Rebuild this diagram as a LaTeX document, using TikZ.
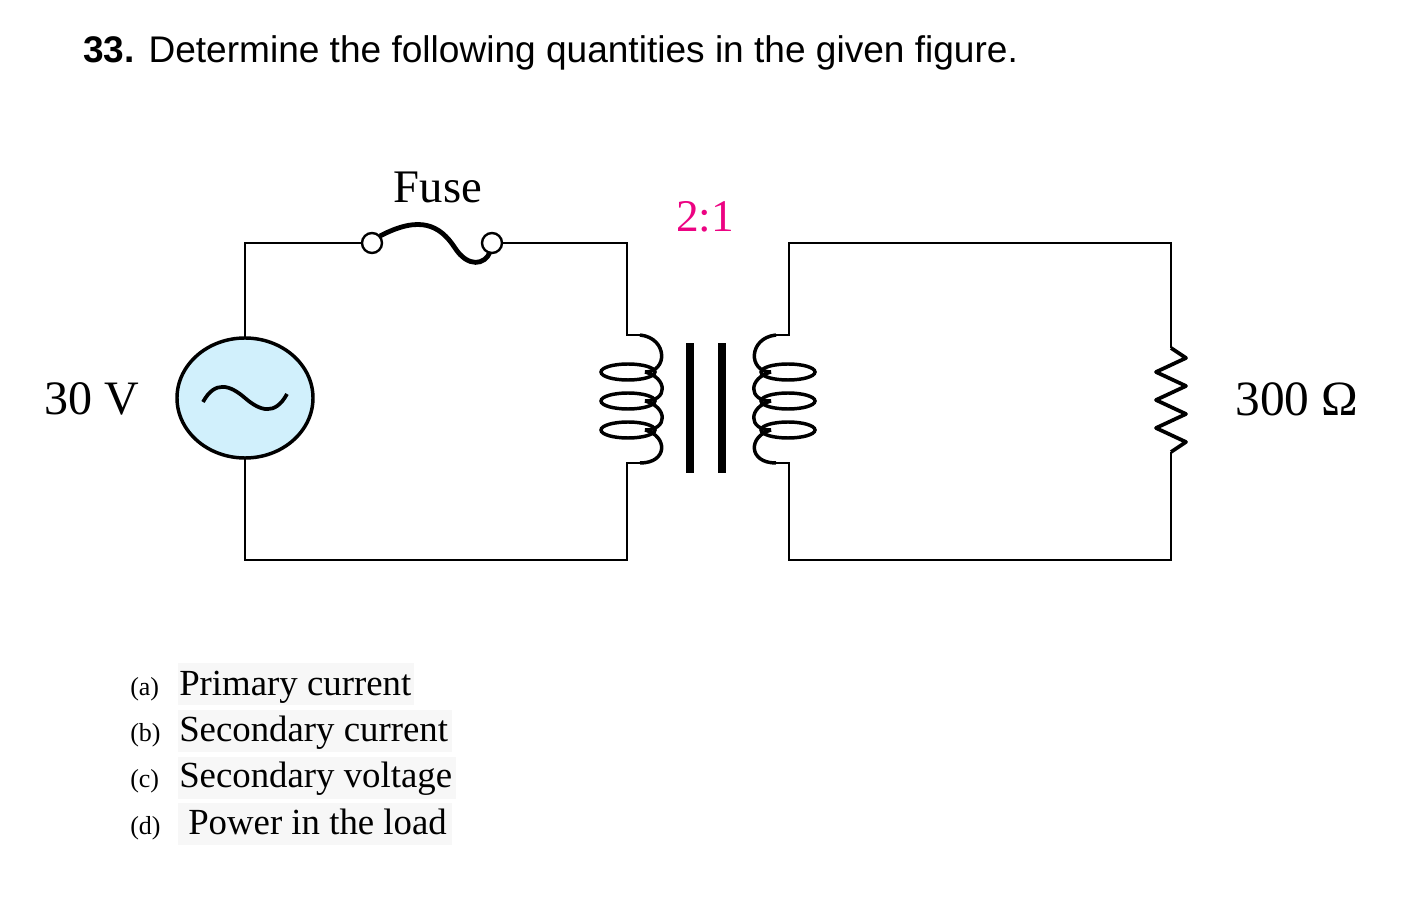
\documentclass[tikz,border=0pt]{standalone}
\usepackage{fontspec}
\usetikzlibrary{shapes.geometric}
\setmainfont{Liberation Serif}
\newfontfamily\arialf{Liberation Sans}
\begin{document}
\begin{tikzpicture}[x=0.75pt,y=-0.75pt,
  lbl/.style={inner sep=0pt,anchor=base west},
  wire/.style={line width=2.1}]
\useasboundingbox (0,0) rectangle (1404,898);
\node[lbl,font=\arialf\fontsize{27.8}{32}\selectfont] (title) at (83,63) {\textbf{33.} Determine the following quantities in the given figure.};
% primary loop
\coordinate (p1) at (245,243); \coordinate (p2) at (627,243);
\coordinate (p3) at (627,560); \coordinate (p4) at (245,560);
\draw[wire] (245,338) -- (p1) -- (372,243);
\draw[wire] (502,243) -- (p2) -- (627,335) -- (640,335);
\draw[wire] (640,463) -- (627,463) -- (p3) -- (p4) -- (245,458);
% fuse
\draw[line width=1.8,fill=white] (372,243) circle (10);
\draw[line width=1.8,fill=white] (492,243) circle (10);
\draw[line width=3.6] (380,236) .. controls (420,215) and (440,225) .. (455,248) .. controls (468,268) and (485,265) .. (490,252);
\node[font=\fontsize{35}{40}\selectfont] (fuse) at (438,187) {Fuse};
% source
\node[draw,line width=2.6,fill=cyan!18,ellipse,minimum width=102pt,minimum height=90pt,inner sep=0] (src) at (245,398) {};
\draw[line width=2.8] (203,402) .. controls (215,380) and (230,385) .. (245,398) .. controls (260,411) and (275,416) .. (287,394);
\node[font=\fontsize{36}{40}\selectfont] (v) at (92,399) {30 V};
% primary coil
\foreach \y in {372,401,430}{\draw[line width=2.6] (628,\y) ellipse (27 and 8);}
\draw[line width=2.6] (640,335) .. controls (668,338) and (668,372) .. (645,372)
  (645,372) .. controls (668,378) and (668,401) .. (645,401)
  (645,401) .. controls (668,407) and (668,430) .. (645,430)
  (645,430) .. controls (668,436) and (668,463) .. (640,463);
% core
\fill (686,343) rectangle (694,473);
\fill (718,343) rectangle (726,473);
% secondary coil
\foreach \y in {372,401,430}{\draw[line width=2.6] (788,\y) ellipse (27 and 8);}
\draw[line width=2.6] (776,335) .. controls (748,338) and (748,372) .. (771,372)
  (771,372) .. controls (748,378) and (748,401) .. (771,401)
  (771,401) .. controls (748,407) and (748,430) .. (771,430)
  (771,430) .. controls (748,436) and (748,463) .. (776,463);
\node[text=magenta!90!red,font=\fontsize{34}{38}\selectfont] (ratio) at (705,217) {2:1};
% secondary loop
\coordinate (s1) at (789,243); \coordinate (s2) at (1171,243);
\coordinate (s3) at (1171,560); \coordinate (s4) at (789,560);
\draw[wire] (776,335) -- (789,335) -- (s1) -- (s2) -- (1171,348);
\draw[wire] (1171,452) -- (s3) -- (s4) -- (789,463) -- (776,463);
\draw[line width=2.8,line join=round] (1171,348) -- (1186,358) -- (1156,372) -- (1186,386) -- (1156,400) -- (1186,414) -- (1156,428) -- (1186,442) -- (1171,452);
\node[font=\fontsize{37}{40}\selectfont] (r) at (1297,399) {300 Ω};
% list
\fill[gray!6] (178,663) rectangle (414,705);
\fill[gray!6] (178,710) rectangle (452,752);
\fill[gray!6] (178,757) rectangle (456,799);
\fill[gray!6] (178,803) rectangle (452,845);
\node[lbl,font=\fontsize{19.5}{22}\selectfont] (la) at (130,695) {(a)};
\node[lbl,font=\fontsize{27.6}{30}\selectfont] (ta) at (179,695) {Primary current};
\node[lbl,font=\fontsize{19.5}{22}\selectfont] (lb) at (130,741) {(b)};
\node[lbl,font=\fontsize{27.6}{30}\selectfont] (tb) at (179,741) {Secondary current};
\node[lbl,font=\fontsize{19.5}{22}\selectfont] (lc) at (130,787) {(c)};
\node[lbl,font=\fontsize{27.6}{30}\selectfont] (tc) at (179,787) {Secondary voltage};
\node[lbl,font=\fontsize{19.5}{22}\selectfont] (ld) at (130,834) {(d)};
\node[lbl,font=\fontsize{27.6}{30}\selectfont] (td) at (188,834) {Power in the load};
\end{tikzpicture}
\end{document}
